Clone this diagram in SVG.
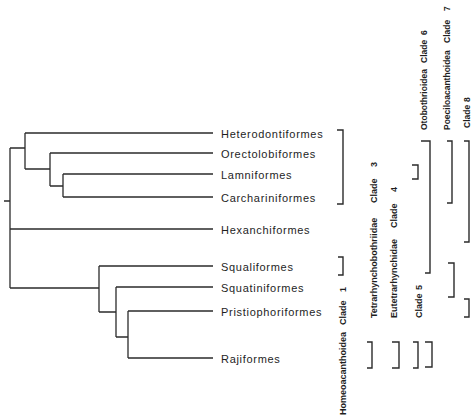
<svg xmlns="http://www.w3.org/2000/svg" width="474" height="419" viewBox="0 0 474 419">
<style>
.ln{fill:none;stroke:#2b2b2b;stroke-width:1.3}
.br{fill:none;stroke:#2b2b2b;stroke-width:1.4}
.tx{font-family:"Liberation Sans",Arial,sans-serif;font-size:11px;letter-spacing:0.7px;fill:#1e1e1e}
.rt{font-family:"Liberation Sans",Arial,sans-serif;font-size:9px;font-weight:bold;fill:#1e1e1e}
.rs{font-size:8.5px}
</style>
<rect width="474" height="419" fill="#fff"/>
<g id="connectors">
<path class="ln" d="M4,201 H10 M10,148 V288 M10,148 H25 M25,133 V169 M25,133 H213 M25,169 H50 M50,153 V186 M50,153 H213 M50,186 H63 M63,174 V197 M63,174 H213 M63,197 H213 M10,229 H213 M10,288 H99 M99,266 V312 M99,266 H213 M99,312 H116 M116,287 V337 M116,287 H213 M116,337 H128 M128,311 V358 M128,311 H213 M128,358 H213"/>
</g>
<g id="taxa">
<text class="tx" x="221" y="138">Heterodontiformes</text>
<text class="tx" x="221" y="158">Orectolobiformes</text>
<text class="tx" x="221" y="179">Lamniformes</text>
<text class="tx" x="221" y="202">Carchariniformes</text>
<text class="tx" x="221" y="234">Hexanchiformes</text>
<text class="tx" x="221" y="271">Squaliformes</text>
<text class="tx" x="221" y="292">Squatiniformes</text>
<text class="tx" x="221" y="316">Pristiophoriformes</text>
<text class="tx" x="221" y="363">Rajiformes</text>
</g>
<g id="brackets">
<path class="br" d="M337,130 H343 V204 H337"/>
<path class="br" d="M338,257 H343 V275 H338"/>
<path class="br" d="M412,165 H418 V179 H412"/>
<path class="br" d="M421,141 H430 V273 H425"/>
<path class="br" d="M447,141 H452 V203 H447"/>
<path class="br" d="M464,141 H469 V242 H464"/>
<path class="br" d="M448,263 H454 V297 H448"/>
<path class="br" d="M464,299 H469 V317 H464"/>
<path class="br" d="M367,342 H372 V368 H367"/>
<path class="br" d="M392,342 H399 V368 H392"/>
<path class="br" d="M413,342 H418 V368 H413"/>
<path class="br" d="M425,342 H432 V367 H425"/>
</g>
<g id="clade-labels">
<text class="rt" transform="translate(346,415) rotate(-90)">Homeoacanthoidea <tspan x="90">Clade</tspan> <tspan x="123">1</tspan></text>
<text class="rt" transform="translate(376.5,318) rotate(-90)">Tetrarhynchobothriidae <tspan x="115">Clade</tspan> <tspan x="151">3</tspan></text>
<text class="rt" transform="translate(396.5,318) rotate(-90)">Eutetrarhynchidae <tspan x="90">Clade</tspan> <tspan x="126">4</tspan></text>
<text class="rt" transform="translate(421.5,318) rotate(-90)">Clade <tspan x="28">5</tspan></text>
<text class="rt rs" transform="translate(426.5,130) rotate(-90)">Otobothrioidea <tspan x="67">Clade</tspan> <tspan x="95">6</tspan></text>
<text class="rt rs" transform="translate(449.5,130) rotate(-90)">Poeciloacanthoidea <tspan x="87">Clade</tspan> <tspan x="119">7</tspan></text>
<text class="rt rs" transform="translate(469.5,128) rotate(-90)">Clade <tspan x="26">8</tspan></text>
</g>
</svg>
